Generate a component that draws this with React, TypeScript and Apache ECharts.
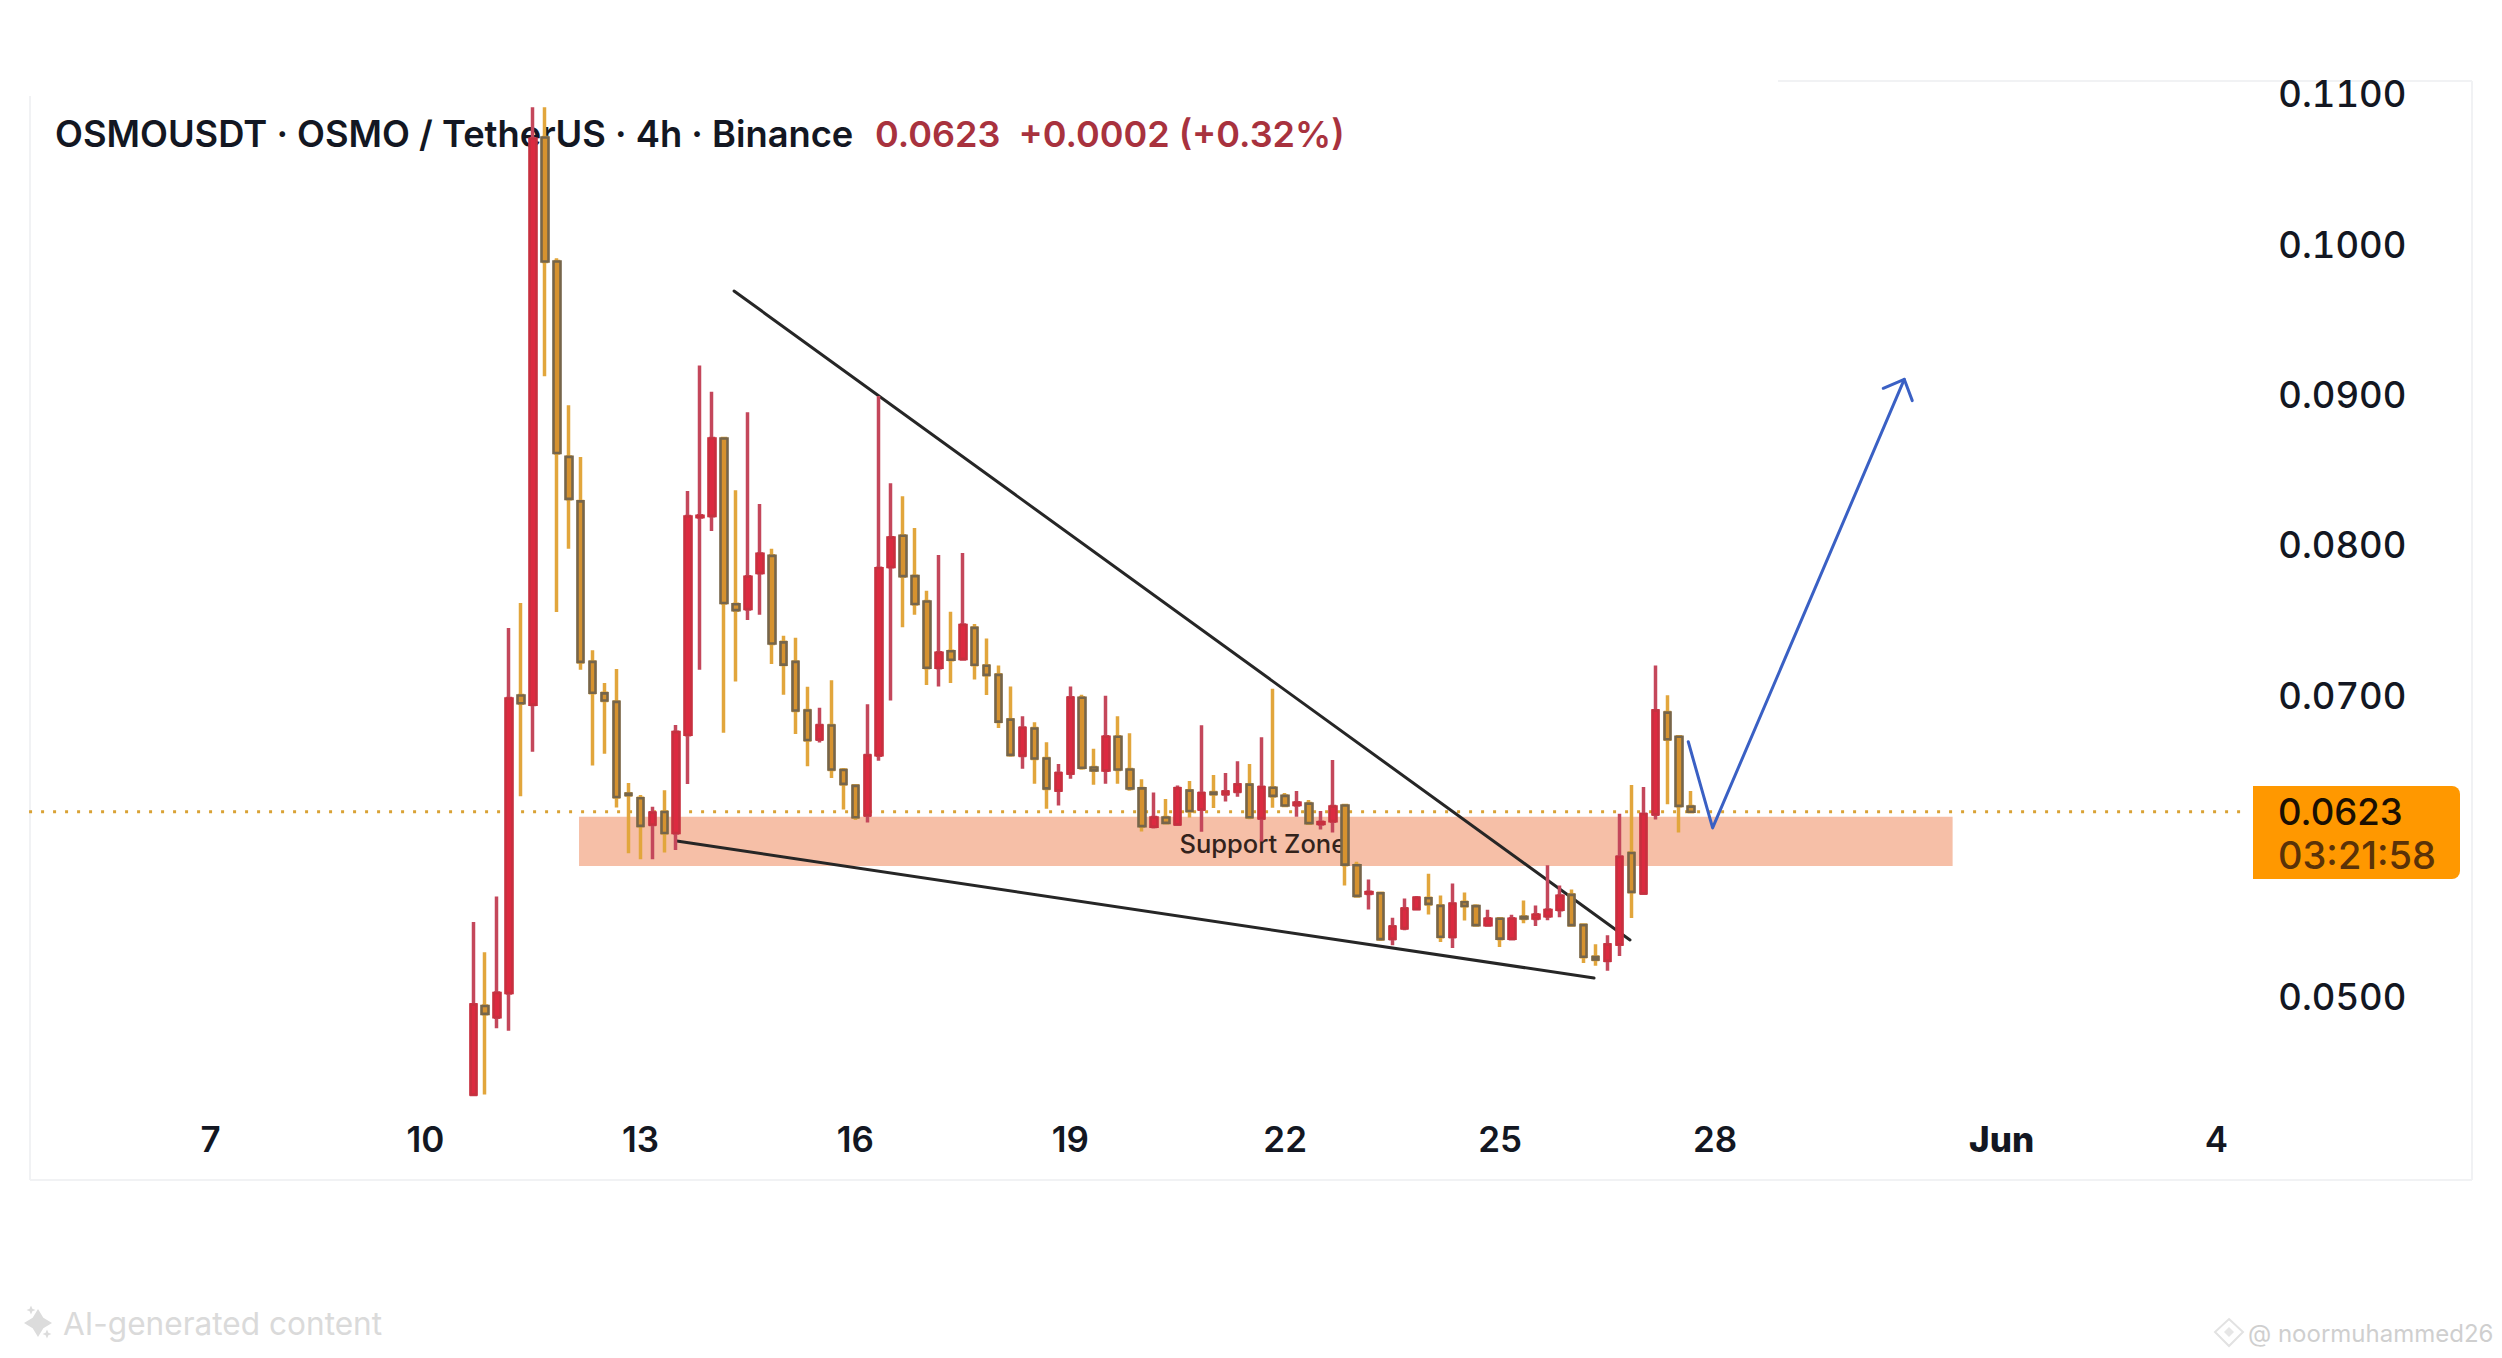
import React, { useEffect, useRef } from "react";
import * as echarts from "echarts";

const dayLabelAt: Record<number, string> = { 15: "7", 33: "10", 51: "13", 69: "16", 87: "19", 105: "22", 123: "25", 141: "28", 165: "Jun", 183: "4" };
const categories = Array.from({ length: 186 }, (_, j) => dayLabelAt[j] ?? `bar${j}`);
const leadingEmptyBars = 37;
const priceTicks = [0.05, 0.07, 0.08, 0.09, 0.1, 0.11];
const lastPrice = 0.0623;

const opens = [0.0435,0.04938,0.04864,0.05025,0.07003,0.06942,0.10713,0.09888,0.08589,0.08293,0.07226,0.07017,0.0696,0.0635,0.06319,0.06145,0.06228,0.06088,0.06742,0.08189,0.08197,0.08711,0.07609,0.07578,0.07818,0.07931,0.07356,0.07226,0.06903,0.06712,0.06803,0.06507,0.06402,0.06207,0.06606,0.07858,0.08065,0.07796,0.07628,0.07187,0.07297,0.07246,0.07452,0.072,0.0714,0.06842,0.06604,0.06783,0.06584,0.06372,0.06485,0.06988,0.06524,0.06505,0.06728,0.06511,0.06385,0.06131,0.06191,0.06147,0.0637,0.06246,0.06357,0.06348,0.06365,0.0641,0.06187,0.06389,0.06335,0.06275,0.06284,0.06149,0.06167,0.06271,0.05874,0.05686,0.05688,0.05386,0.05456,0.05584,0.05655,0.05604,0.05399,0.05628,0.05602,0.05476,0.05518,0.05386,0.05531,0.0552,0.05536,0.05578,0.05677,0.05476,0.05264,0.0524,0.05348,0.05955,0.05688,0.06213,0.06889,0.06728,0.06264];
const closes = [0.04947,0.04886,0.05025,0.06982,0.06951,0.10704,0.09888,0.08615,0.0831,0.07226,0.07021,0.06969,0.06328,0.06341,0.06136,0.06223,0.06088,0.06759,0.08193,0.08197,0.08711,0.07618,0.0757,0.07792,0.07944,0.07348,0.07208,0.06903,0.06707,0.06803,0.06511,0.06415,0.06193,0.06604,0.07849,0.08052,0.07796,0.07611,0.07187,0.07286,0.0724,0.07471,0.07207,0.0714,0.06829,0.06608,0.06787,0.06584,0.06385,0.06485,0.06988,0.06522,0.06505,0.06728,0.06511,0.06385,0.06134,0.06191,0.06156,0.06385,0.06235,0.06352,0.06348,0.06363,0.0641,0.06193,0.06392,0.06335,0.06271,0.0629,0.06154,0.0616,0.06264,0.05878,0.0567,0.05695,0.05383,0.05465,0.05584,0.05657,0.05617,0.05399,0.05617,0.05604,0.05476,0.05518,0.05386,0.05518,0.0552,0.05545,0.05576,0.0567,0.05476,0.05266,0.05247,0.05346,0.05929,0.05697,0.06213,0.06902,0.06712,0.06269,0.0623];
const lows = [0.0435,0.0435,0.0479,0.04773,0.06332,0.06629,0.09126,0.07557,0.07979,0.07173,0.06537,0.06616,0.06258,0.05953,0.05914,0.05914,0.05958,0.05975,0.06415,0.07173,0.08097,0.06755,0.07095,0.07504,0.07539,0.07212,0.07008,0.06746,0.06533,0.0669,0.06454,0.06245,0.06175,0.06158,0.06569,0.0697,0.07456,0.0754,0.07072,0.07063,0.07085,0.0724,0.07109,0.07006,0.06787,0.06595,0.06516,0.06416,0.06249,0.06271,0.06449,0.06509,0.0641,0.06416,0.06416,0.0637,0.06098,0.06118,0.06154,0.06138,0.06191,0.06096,0.06255,0.06297,0.0633,0.0618,0.06032,0.06257,0.06262,0.06196,0.06147,0.06112,0.06092,0.05739,0.05664,0.0558,0.0537,0.05342,0.05441,0.0558,0.05547,0.05364,0.05324,0.05507,0.05465,0.05474,0.0533,0.05384,0.05489,0.0547,0.05509,0.05529,0.05472,0.05224,0.05205,0.05172,0.05271,0.05523,0.05684,0.06178,0.0628,0.06092,0.0623];
const highs = [0.05496,0.05295,0.05666,0.07452,0.07618,0.10914,0.10914,0.09909,0.08933,0.08589,0.07304,0.07086,0.07178,0.0642,0.06341,0.06263,0.06372,0.06807,0.08363,0.09196,0.09022,0.08716,0.08367,0.08886,0.08276,0.07979,0.074,0.07387,0.0706,0.06921,0.07104,0.0652,0.06411,0.06944,0.08994,0.08414,0.08328,0.08116,0.07699,0.07937,0.0756,0.0795,0.07478,0.07381,0.07202,0.07063,0.06864,0.06825,0.06692,0.06547,0.07063,0.07008,0.06648,0.07001,0.06864,0.06752,0.06445,0.06357,0.06315,0.06405,0.06434,0.06805,0.06474,0.06487,0.06566,0.06547,0.06725,0.07048,0.06354,0.06368,0.06308,0.06235,0.06573,0.06271,0.05898,0.05779,0.05695,0.05525,0.05653,0.0567,0.05818,0.05673,0.05752,0.05693,0.05615,0.05578,0.0552,0.05545,0.0564,0.05606,0.05874,0.05739,0.05712,0.05478,0.05348,0.05408,0.06216,0.06408,0.06394,0.07202,0.07004,0.0673,0.06368];

const upperTrend = [[59.34, 0.09692], [134.38, 0.05377]];
const lowerTrend = [[54.54, 0.06035], [131.37, 0.05124]];
const forecastPath = [[139.26, 0.06695], [141.3, 0.06122], [157.35, 0.09105]];
const forecastArrowHead = [[155.59, 0.09045], [157.35, 0.09105], [158.02, 0.08963]];
const lastPriceLine = [[0.3, lastPrice], [186, lastPrice]];
const supportZoneX = [46.36, 161.4];
const supportZoneY = [0.06197, 0.05869];

const FONT = "Inter";
const empty = ["-", "-", "-", "-"];
const pad = Array.from({ length: leadingEmptyBars }, () => empty);
const fullBars = [...pad, ...opens.map((o, i) => [o, closes[i], lows[i], highs[i]])];
const bodyBars = [...pad, ...opens.map((o, i) => [o, closes[i], Math.min(o, closes[i]), Math.max(o, closes[i])])];

const star = (cx: number, cy: number, r: number, k = 0.3) => {
  const q = r * k;
  return [[cx, cy - r], [cx + q, cy - q], [cx + r, cy], [cx + q, cy + q], [cx, cy + r], [cx - q, cy + q], [cx - r, cy], [cx - q, cy - q]];
};

const trend = (data: number[][], color: string, width: number) => ({
  type: "line", xAxisIndex: 1, data, showSymbol: false, symbol: "none", silent: true, z: 2,
  lineStyle: { color, width, cap: "round", join: "round" },
});

export default function App() {
  const ref = useRef<HTMLDivElement>(null);
  useEffect(() => {
    const chart = echarts.init(ref.current!, undefined, { renderer: "svg" });
    const border = { stroke: "#f1f2f4", lineWidth: 2 };
    chart.setOption({
      animation: false,
      backgroundColor: "#ffffff",
      grid: { left: 25.5, top: 64.2, width: 2220.84, height: 1031.76, containLabel: false },
      xAxis: [
        {
          type: "category", data: categories, boundaryGap: true, axisLine: { show: false }, axisTick: { show: false }, splitLine: { show: false },
          axisLabel: {
            interval: (i: number) => dayLabelAt[i] !== undefined,
            formatter: (v: string) => (v === "Jun" ? "{m|Jun}" : v),
            rich: { m: { fontFamily: FONT, fontWeight: 800, fontSize: 35, color: "#131722" } },
            color: "#131722", fontFamily: FONT, fontWeight: 600, fontSize: 35, margin: 26, hideOverlap: false,
          },
        },
        { type: "value", min: 0, max: 186, show: false },
      ],
      yAxis: {
        type: "value", position: "right", min: 0.0434, max: 0.112, scale: true,
        axisLine: { show: false }, axisTick: { show: false }, splitLine: { show: false },
        axisLabel: { customValues: priceTicks, formatter: (v: number) => v.toFixed(4), color: "#131722", fontFamily: FONT, fontWeight: 500, fontSize: 36.5, margin: 32 },
      },
      graphic: [
        { type: "line", z: 0, shape: { x1: 30, y1: 96, x2: 30, y2: 1180 }, style: border },
        { type: "line", z: 0, shape: { x1: 30, y1: 1180, x2: 2472, y2: 1180 }, style: border },
        { type: "line", z: 0, shape: { x1: 2472, y1: 81, x2: 2472, y2: 1180 }, style: border },
        { type: "line", z: 0, shape: { x1: 1778, y1: 81, x2: 2472, y2: 81 }, style: border },
        { type: "text", z: 0, x: 55, y: 134, style: { text: "OSMOUSDT · OSMO / TetherUS · 4h · Binance", fill: "#131722", font: `600 36.3px ${FONT}`, verticalAlign: "middle" } },
        { type: "text", z: 0, x: 875, y: 134, style: { text: "0.0623  +0.0002 (+0.32%)", fill: "#a8323e", font: `600 36px ${FONT}`, verticalAlign: "middle" } },
        { type: "rect", z: 10, shape: { x: 2253, y: 786, width: 207, height: 93, r: [0, 8, 8, 0] }, style: { fill: "#ff9800" } },
        { type: "text", z: 11, x: 2278, y: 812, style: { text: lastPrice.toFixed(4), fill: "#1a0f02", font: `500 36.5px ${FONT}`, verticalAlign: "middle" } },
        { type: "text", z: 11, x: 2278, y: 855, style: { text: "03:21:58", fill: "#5a3208", font: `500 38px ${FONT}`, verticalAlign: "middle" } },
        { type: "polygon", z: 0, shape: { points: star(38, 1323, 14, 0.38) }, style: { fill: "#dcdcdc" } },
        { type: "polygon", z: 0, shape: { points: star(31, 1310, 4.5) }, style: { fill: "#dcdcdc" } },
        { type: "polygon", z: 0, shape: { points: star(47, 1334, 4.5) }, style: { fill: "#dcdcdc" } },
        { type: "text", z: 0, x: 63, y: 1323, style: { text: "AI-generated content", fill: "#dadada", font: `400 31.6px ${FONT}`, verticalAlign: "middle" } },
        { type: "polygon", z: 0, shape: { points: [[2229, 1319], [2243, 1332], [2229, 1346], [2215, 1332]] }, style: { fill: "none", stroke: "#e2e2e2", lineWidth: 2 } },
        { type: "polygon", z: 0, shape: { points: [[2229, 1327], [2234, 1332], [2229, 1337], [2224, 1332]] }, style: { fill: "#e6e6e6" } },
        { type: "text", z: 0, x: 2248, y: 1333, style: { text: "@ noormuhammed26", fill: "#cfcfcf", font: `400 24px ${FONT}`, verticalAlign: "middle" } },
      ],
      series: [
        {
          type: "line", xAxisIndex: 1, data: [[supportZoneX[0], supportZoneY[0]], [supportZoneX[1], supportZoneY[1]]], showSymbol: false, symbol: "none", silent: true, z: 1,
          lineStyle: { opacity: 0, width: 0 },
          markArea: {
            silent: true, z: 1,
            itemStyle: { color: "#f6bfa7" },
            label: { show: true, position: "inside", formatter: "Support Zone", color: "#33231c", fontFamily: FONT, fontWeight: 500, fontSize: 25.5, offset: [-3, 2] },
            data: [[{ coord: [supportZoneX[0], supportZoneY[0]] }, { coord: [supportZoneX[1], supportZoneY[1]] }]],
          },
        },
        { type: "line", xAxisIndex: 1, data: lastPriceLine, showSymbol: false, symbol: "none", silent: true, z: 2, lineStyle: { color: "#d9a235", width: 3, type: [3, 9] } },
        trend(upperTrend, "#262626", 3),
        trend(lowerTrend, "#262626", 3),
        {
          type: "candlestick", data: fullBars, barWidth: 4, z: 3, silent: true, clip: true,
          itemStyle: { color: "#c4475b", color0: "#e2a63c", borderColor: "#c4475b", borderColor0: "#e2a63c", borderWidth: 3.5 },
        },
        {
          type: "candlestick", data: bodyBars, barWidth: 7, z: 4, silent: true, clip: true,
          itemStyle: { color: "#dc2a40", color0: "#d6922f", borderColor: "#c7303f", borderColor0: "#76654a", borderWidth: 2.6 },
        },
        trend(forecastPath, "#3a60c4", 3),
        trend(forecastArrowHead, "#3a60c4", 3),
      ],
    });
    return () => chart.dispose();
  }, []);
  return <div ref={ref} style={{ position: "fixed", left: 0, top: 0, width: 2502, height: 1358, background: "#fff", fontFeatureSettings: '"tnum"' }} />;
}
